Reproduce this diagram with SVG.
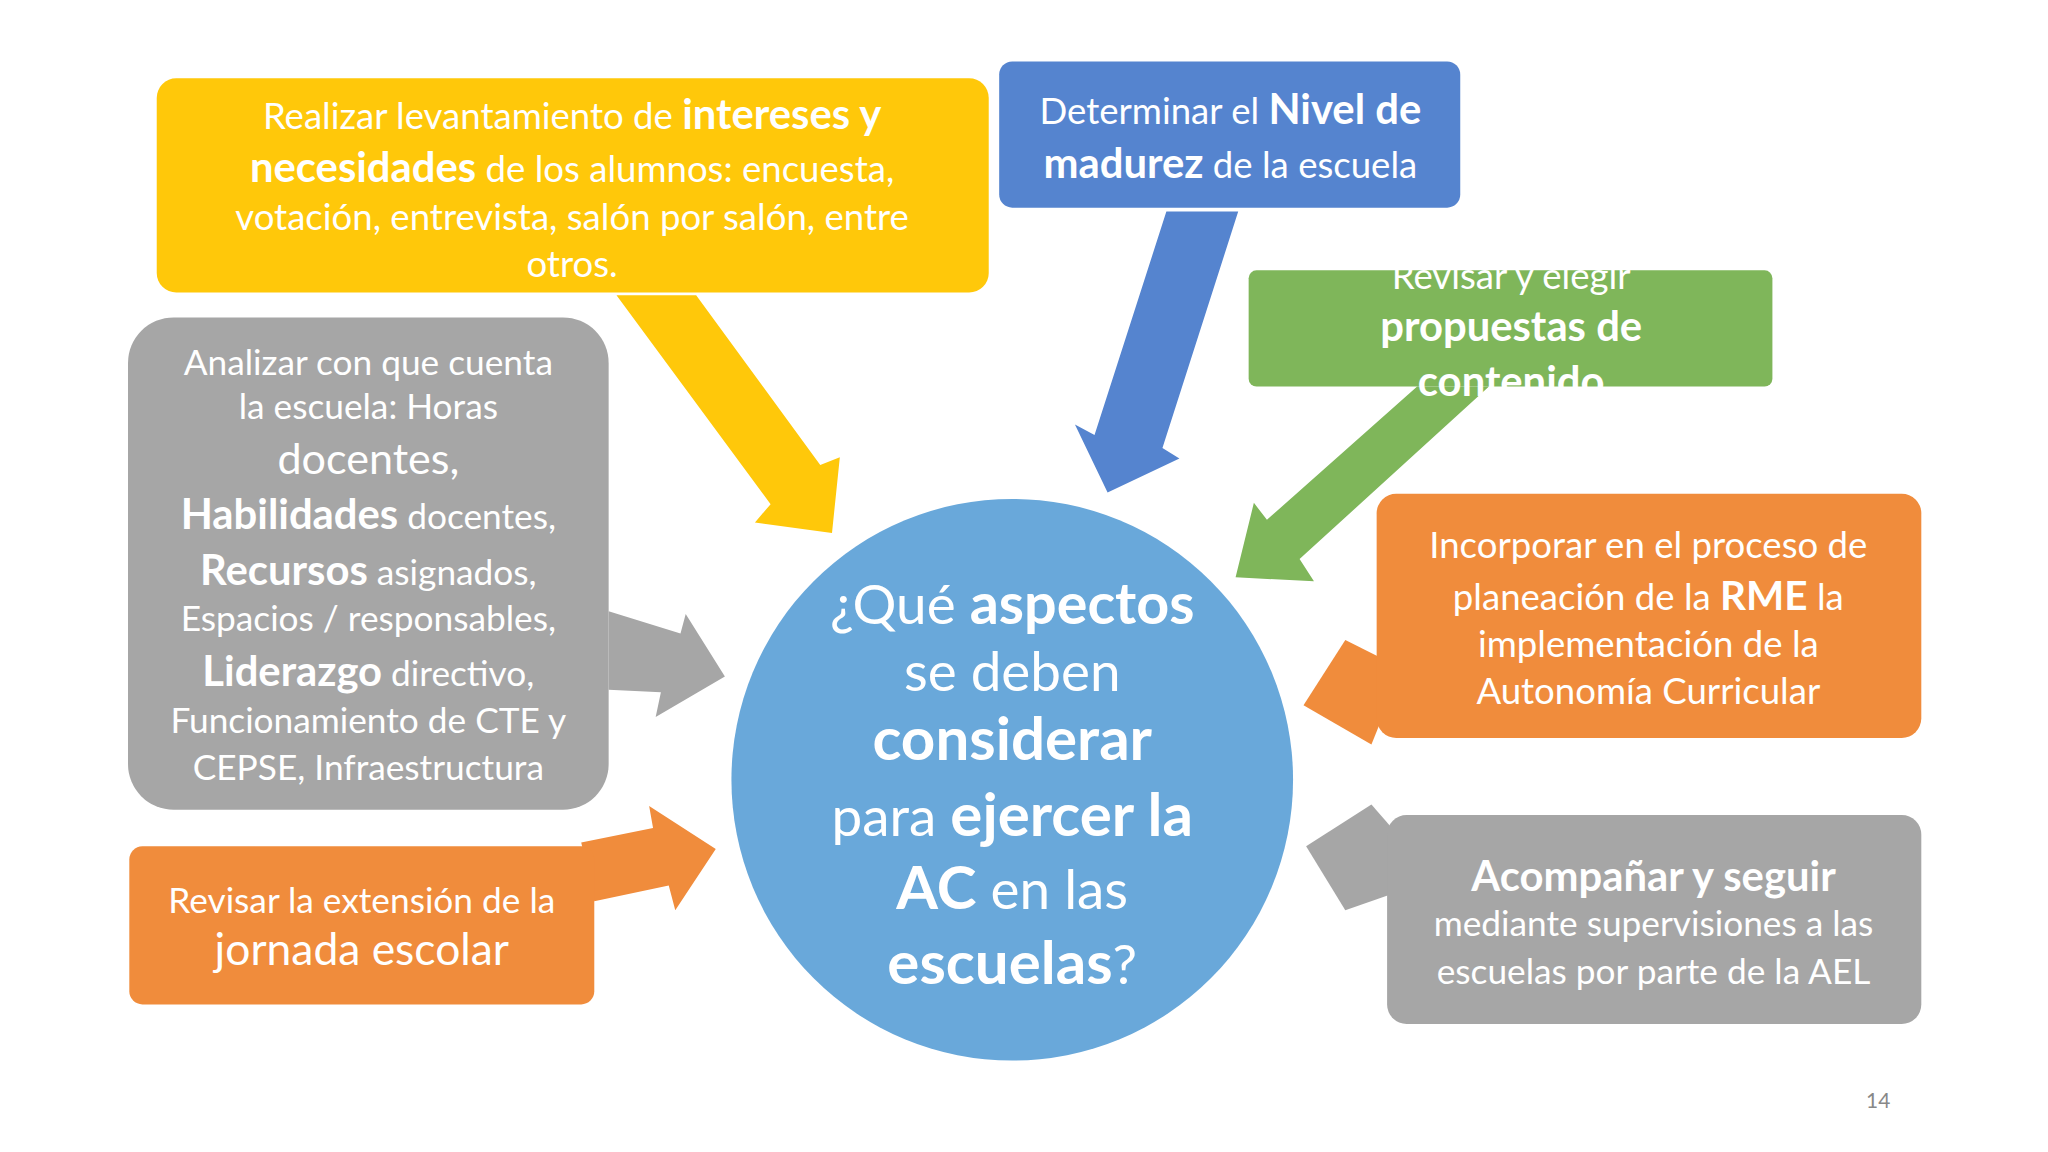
<svg xmlns="http://www.w3.org/2000/svg" width="2048" height="1152" viewBox="0 0 2048 1152">
<style>
text{font-family:Lato,"Open Sans",sans-serif;fill:#fff;text-anchor:middle}
.b{font-weight:bold}
</style>
<rect width="2048" height="1152" fill="#fff"/>
<g transform="scale(1.30612)">
<g id="connectors">
<polygon fill="#FFC80A" points="472,226 533,226 628,356 643,350 637,408 578,400 590,386"/>
<polygon fill="#5584CF" points="893,162 948,162 890,343 903,351 848,377 823,325 838,333"/>
<polygon fill="#7FB65A" points="1085,296 1140,296 995,428 1006,445 946,442 960,385 970,398"/>
<polygon fill="#A6A6A6" points="466,468 521,485 525,470 555,518 502,549 506,530 466,528"/>
<polygon fill="#F08C3C" points="445,645 500,634 497,617 548,650 517,697 512,678 455,690"/>
<polygon fill="#F08C3C" points="1056,503 1030,490 998,540 1050,570 1056,555"/>
<polygon fill="#A6A6A6" points="1064,632 1050,616 1000,648 1030,697 1064,685"/>
</g>
<g id="yellow">
<rect x="120" y="60" width="637" height="164" rx="15" fill="#FFC80A"/>
<text font-size="28"><tspan x="438" y="99">Realizar levantamiento de <tspan class="b" font-size="32">intereses y</tspan></tspan><tspan x="438" y="139"><tspan class="b" font-size="32">necesidades</tspan> de los alumnos: encuesta,</tspan><tspan x="438" y="176">votación, entrevista, salón por salón, entre</tspan><tspan x="438" y="212">otros.</tspan></text>
</g>
<g id="blue">
<rect x="765" y="47" width="353" height="112" rx="10" fill="#5584CF"/>
<text font-size="28"><tspan x="942" y="95">Determinar el <tspan class="b" font-size="32">Nivel de</tspan></tspan><tspan x="942" y="136"><tspan class="b" font-size="32">madurez</tspan> de la escuela</tspan></text>
</g>
<g id="green">
<rect x="956" y="207" width="401" height="89" rx="6" fill="#7FB65A"/>
<text font-size="28"><tspan x="1157" y="221">Revisar y elegir</tspan><tspan x="1157" y="261" class="b" font-size="32">propuestas de</tspan><tspan x="1157" y="303" class="b" font-size="32">contenido</tspan></text>
</g>
<g id="grey-left">
<rect x="98" y="243" width="368" height="377" rx="35" fill="#A6A6A6"/>
<text font-size="27"><tspan x="282" y="287">Analizar con que cuenta</tspan><tspan x="282" y="321">la escuela: Horas</tspan><tspan x="282" y="363" font-size="33">docentes,</tspan><tspan x="282" y="405"><tspan class="b" font-size="32">Habilidades</tspan> docentes,</tspan><tspan x="282" y="448"><tspan class="b" font-size="32">Recursos</tspan> asignados,</tspan><tspan x="282" y="483">Espacios / responsables,</tspan><tspan x="282" y="525"><tspan class="b" font-size="32">Liderazgo</tspan> directivo,</tspan><tspan x="282" y="561">Funcionamiento de CTE y</tspan><tspan x="282" y="597">CEPSE, Infraestructura</tspan></text>
</g>
<g id="orange-left">
<rect x="99" y="648" width="356" height="121" rx="10" fill="#F08C3C"/>
<text font-size="27"><tspan x="277" y="699">Revisar la extensión de la</tspan><tspan x="277" y="739" font-size="34">jornada escolar</tspan></text>
</g>
<g id="center">
<circle cx="775" cy="597" r="215" fill="#69A8DA"/>
<text font-size="42"><tspan x="775" y="478">¿Qué <tspan class="b" font-size="44">aspectos</tspan></tspan><tspan x="775" y="529">se deben</tspan><tspan x="775" y="582" class="b" font-size="46">considerar</tspan><tspan x="775" y="640">para <tspan class="b" font-size="46">ejercer la</tspan></tspan><tspan x="775" y="696"><tspan class="b" font-size="46">AC</tspan> en las</tspan><tspan x="775" y="753"><tspan class="b" font-size="46">escuelas</tspan>?</tspan></text>
</g>
<g id="orange-right">
<rect x="1054" y="378" width="417" height="187" rx="15" fill="#F08C3C"/>
<text font-size="28"><tspan x="1262" y="427">Incorporar en el proceso de</tspan><tspan x="1262" y="467">planeación de la <tspan class="b" font-size="31">RME</tspan> la</tspan><tspan x="1262" y="503">implementación de la</tspan><tspan x="1262" y="539">Autonomía Curricular</tspan></text>
</g>
<g id="grey-right">
<rect x="1062" y="624" width="409" height="160" rx="15" fill="#A6A6A6"/>
<text font-size="27"><tspan x="1266" y="682" class="b" font-size="32">Acompañar y seguir</tspan><tspan x="1266" y="717">mediante supervisiones a las</tspan><tspan x="1266" y="753">escuelas por parte de la AEL</tspan></text>
</g>
<text x="1438" y="848" font-size="16" style="fill:#888">14</text>
</g>
</svg>
